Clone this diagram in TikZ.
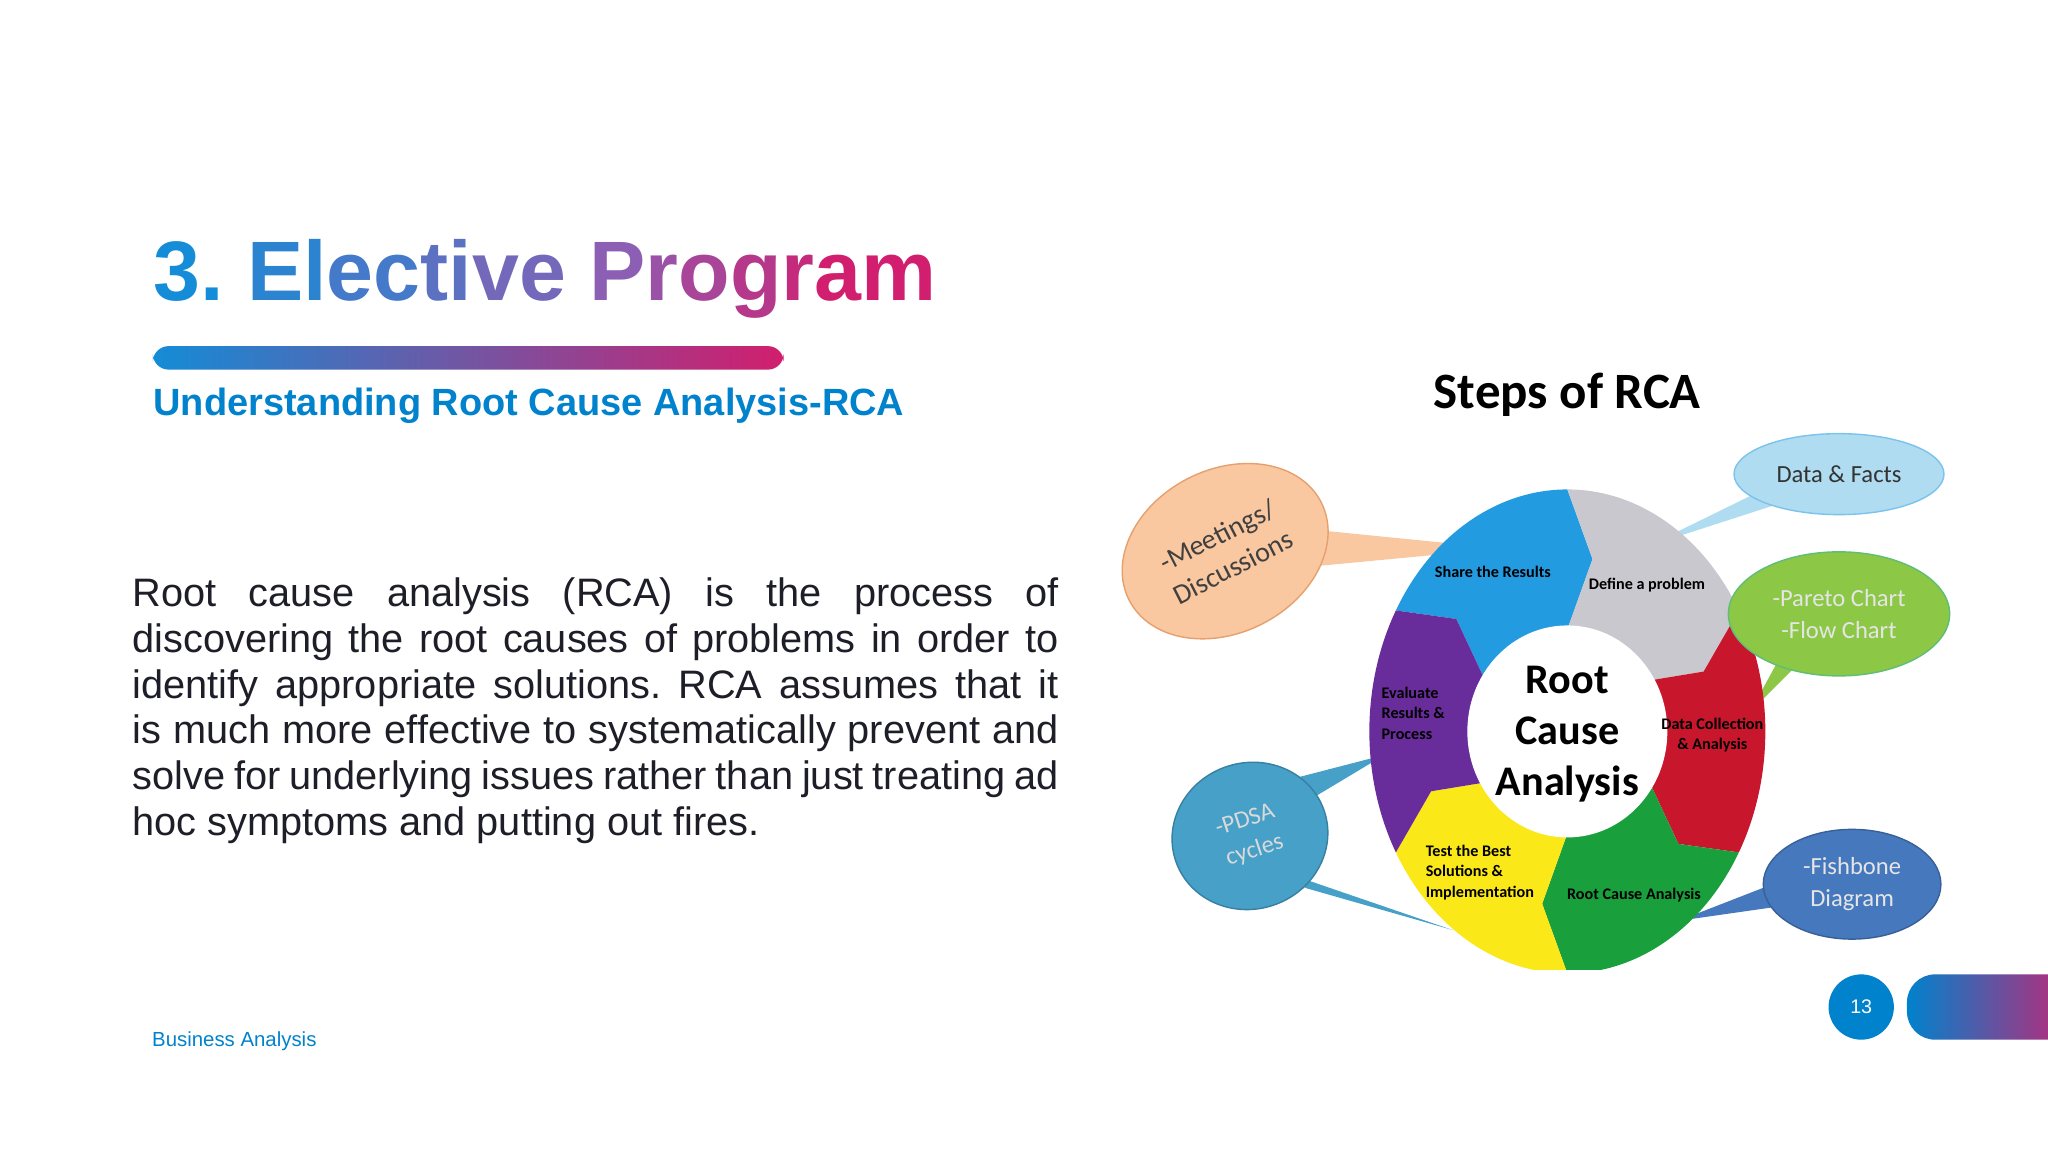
\documentclass[tikz,border=0pt]{standalone}
\usepackage{fontspec}
\usepackage[none]{hyphenat}
\setmainfont{Liberation Sans}
\newfontfamily\carl{Carlito}
\usetikzlibrary{shapes.geometric}
\frenchspacing
\definecolor{tblue}{RGB}{20,140,215}
\definecolor{tpurp}{RGB}{140,95,180}
\definecolor{tmag}{RGB}{210,30,110}
\definecolor{sblue}{RGB}{0,130,205}
\definecolor{bodyc}{RGB}{30,30,40}
\definecolor{segblue}{RGB}{35,155,225}
\definecolor{seggrey}{RGB}{200,200,206}
\definecolor{segred}{RGB}{200,22,45}
\definecolor{seggreen}{RGB}{25,160,60}
\definecolor{segyellow}{RGB}{250,232,25}
\definecolor{segpurple}{RGB}{105,45,155}
\definecolor{peach}{RGB}{250,200,160}
\definecolor{peachd}{RGB}{230,160,110}
\definecolor{lblue}{RGB}{175,220,240}
\definecolor{lgreen}{RGB}{140,200,70}
\definecolor{teal}{RGB}{70,160,200}
\definecolor{fblue}{RGB}{70,120,190}
\tikzset{
  seglab/.style={font=\carl\bfseries\fontsize{4.6}{5.8}\selectfont, align=left, text=black},
  bubtxt/.style={font=\carl\fontsize{7}{9}\selectfont, align=center},
}
\begin{document}
\begin{tikzpicture}[x=0.01306cm,y=-0.01306cm]
\useasboundingbox (0,0) rectangle (1568,882);
\fill[white] (0,0) rectangle (1568,882);
% title
\node[anchor=base west, inner sep=0, font=\bfseries\fontsize{24}{26}\selectfont] (title) at (117,230)
 {\textcolor{tblue}{3.} \textcolor{tblue!80!tpurp}{El}\textcolor{tblue!60!tpurp}{ec}\textcolor{tblue!40!tpurp}{ti}\textcolor{tblue!20!tpurp}{ve} \textcolor{tpurp}{P}\textcolor{tpurp!80!tmag}{r}\textcolor{tpurp!60!tmag}{o}\textcolor{tpurp!40!tmag}{g}\textcolor{tpurp!20!tmag}{r}\textcolor{tmag}{am}};
\shade[left color=tblue, right color=tmag, rounded corners=4.5] (117,265) rectangle (600,283);
\node[anchor=base west, inner sep=0, font=\bfseries\fontsize{10.8}{12}\selectfont, text=sblue] (sub) at (117,318)
 {Understanding Root Cause Analysis-RCA};
\node[anchor=north west, inner sep=0, text width=9.26cm, align=justify, text=bodyc,
 font=\fontsize{11.3}{13}\selectfont] (body) at (101,442)
 {Root cause analysis (RCA) is the process of discovering the root causes of problems in order to identify appropriate solutions. RCA assumes that it is much more effective to systematically prevent and solve for underlying issues rather than just treating ad hoc symptoms and putting out fires.};
\node[anchor=base west, inner sep=0, font=\fontsize{5.8}{7}\selectfont, text=sblue] (foot) at (116,801) {Business Analysis};
\node[circle, fill=sblue, minimum size=50*0.01306cm, inner sep=0, text=white, font=\fontsize{5.6}{7}\selectfont] (pg) at (1425,771) {13};
\shade[left color=sblue, right color=tmag, rounded corners=8] (1460,746) rectangle (1600,796);
% RCA diagram
\node[font=\carl\bfseries\fontsize{14.5}{17}\selectfont] (rcat) at (1200,302) {Steps of RCA};
% callout tails
\fill[peach] (938,440) -- (1150,420) -- (950,400) -- cycle;
\fill[lblue] (1395,375) -- (1262,418) -- (1370,365) -- cycle;
\fill[lgreen] (1390,495) -- (1340,545) -- (1370,490) -- cycle;
\fill[teal] (990,620) -- (1060,578) -- (975,600) -- cycle;
\fill[teal] (975,665) -- (1112,712) -- (1000,680) -- cycle;
\fill[fblue] (1390,690) -- (1285,705) -- (1375,670) -- cycle;
\begin{scope}[shift={(1200,560)}, x=1cm, y=1cm]
  \foreach \s/\e/\c in {150/90/segblue, 90/30/seggrey, 30/-30/segred, -30/-90/seggreen, -90/-150/segyellow, -150/-210/segpurple}{
    \fill[\c] (\s:1.98cm and 2.42cm) arc[start angle=\s, end angle=\e, x radius=1.98cm, y radius=2.42cm]
      -- (\e-10:1.45cm and 1.75cm) -- (\e:0.95cm and 1.02cm) arc[start angle=\e, end angle=\s, x radius=0.95cm, y radius=1.02cm]
      -- (\s-10:1.45cm and 1.75cm) -- cycle;
  }
  \fill[white] (0,0) ellipse (1.0cm and 1.06cm);
\end{scope}
\fill[white] (1040,743) rectangle (1360,760);
\node[font=\carl\bfseries\fontsize{12}{14.5}\selectfont, align=center] (center) at (1200,562) {Root\\Cause\\Analysis};
\node[seglab] (l1) at (1143,438) {Share the Results};
\node[seglab] (l2) at (1261,448) {Define a problem};
\node[seglab, align=center] (l3) at (1311,563) {Data Collection\\\& Analysis};
\node[seglab] (l4) at (1251,685) {Root Cause Analysis};
\node[seglab] (l5) at (1133,668) {Test the Best\\Solutions \&\\Implementation};
\node[seglab] (l6) at (1082,546) {Evaluate\\Results \&\\Process};
% callouts
\node[ellipse, fill=peach, draw=peachd, minimum width=165*0.01306cm, minimum height=125*0.01306cm, rotate=27, inner sep=0, bubtxt, text=black!75, font=\carl\fontsize{8}{10}\selectfont] (b1) at (938,422) {-Meetings/\\Discussions};
\node[ellipse, fill=lblue, draw=segblue!60, minimum width=145*0.01306cm, minimum height=62*0.01306cm, bubtxt, text=black!80] (b2) at (1408,363) {Data \& Facts};
\node[ellipse, fill=lgreen, draw=seggreen!70, minimum width=155*0.01306cm, minimum height=95*0.01306cm, bubtxt, text=white!90!black] (b3) at (1408,470) {-Pareto Chart\\-Flow Chart};
\node[ellipse, fill=teal, draw=teal!80!black, minimum width=120*0.01306cm, minimum height=112*0.01306cm, rotate=18, inner sep=0, bubtxt, text=white!85!black] (b4) at (957,640) {-PDSA\\cycles};
\node[ellipse, fill=fblue, draw=fblue!80!black, minimum width=136*0.01306cm, minimum height=84*0.01306cm, bubtxt, text=white!90!black] (b5) at (1418,677) {-Fishbone\\Diagram};
\end{tikzpicture}
\end{document}
